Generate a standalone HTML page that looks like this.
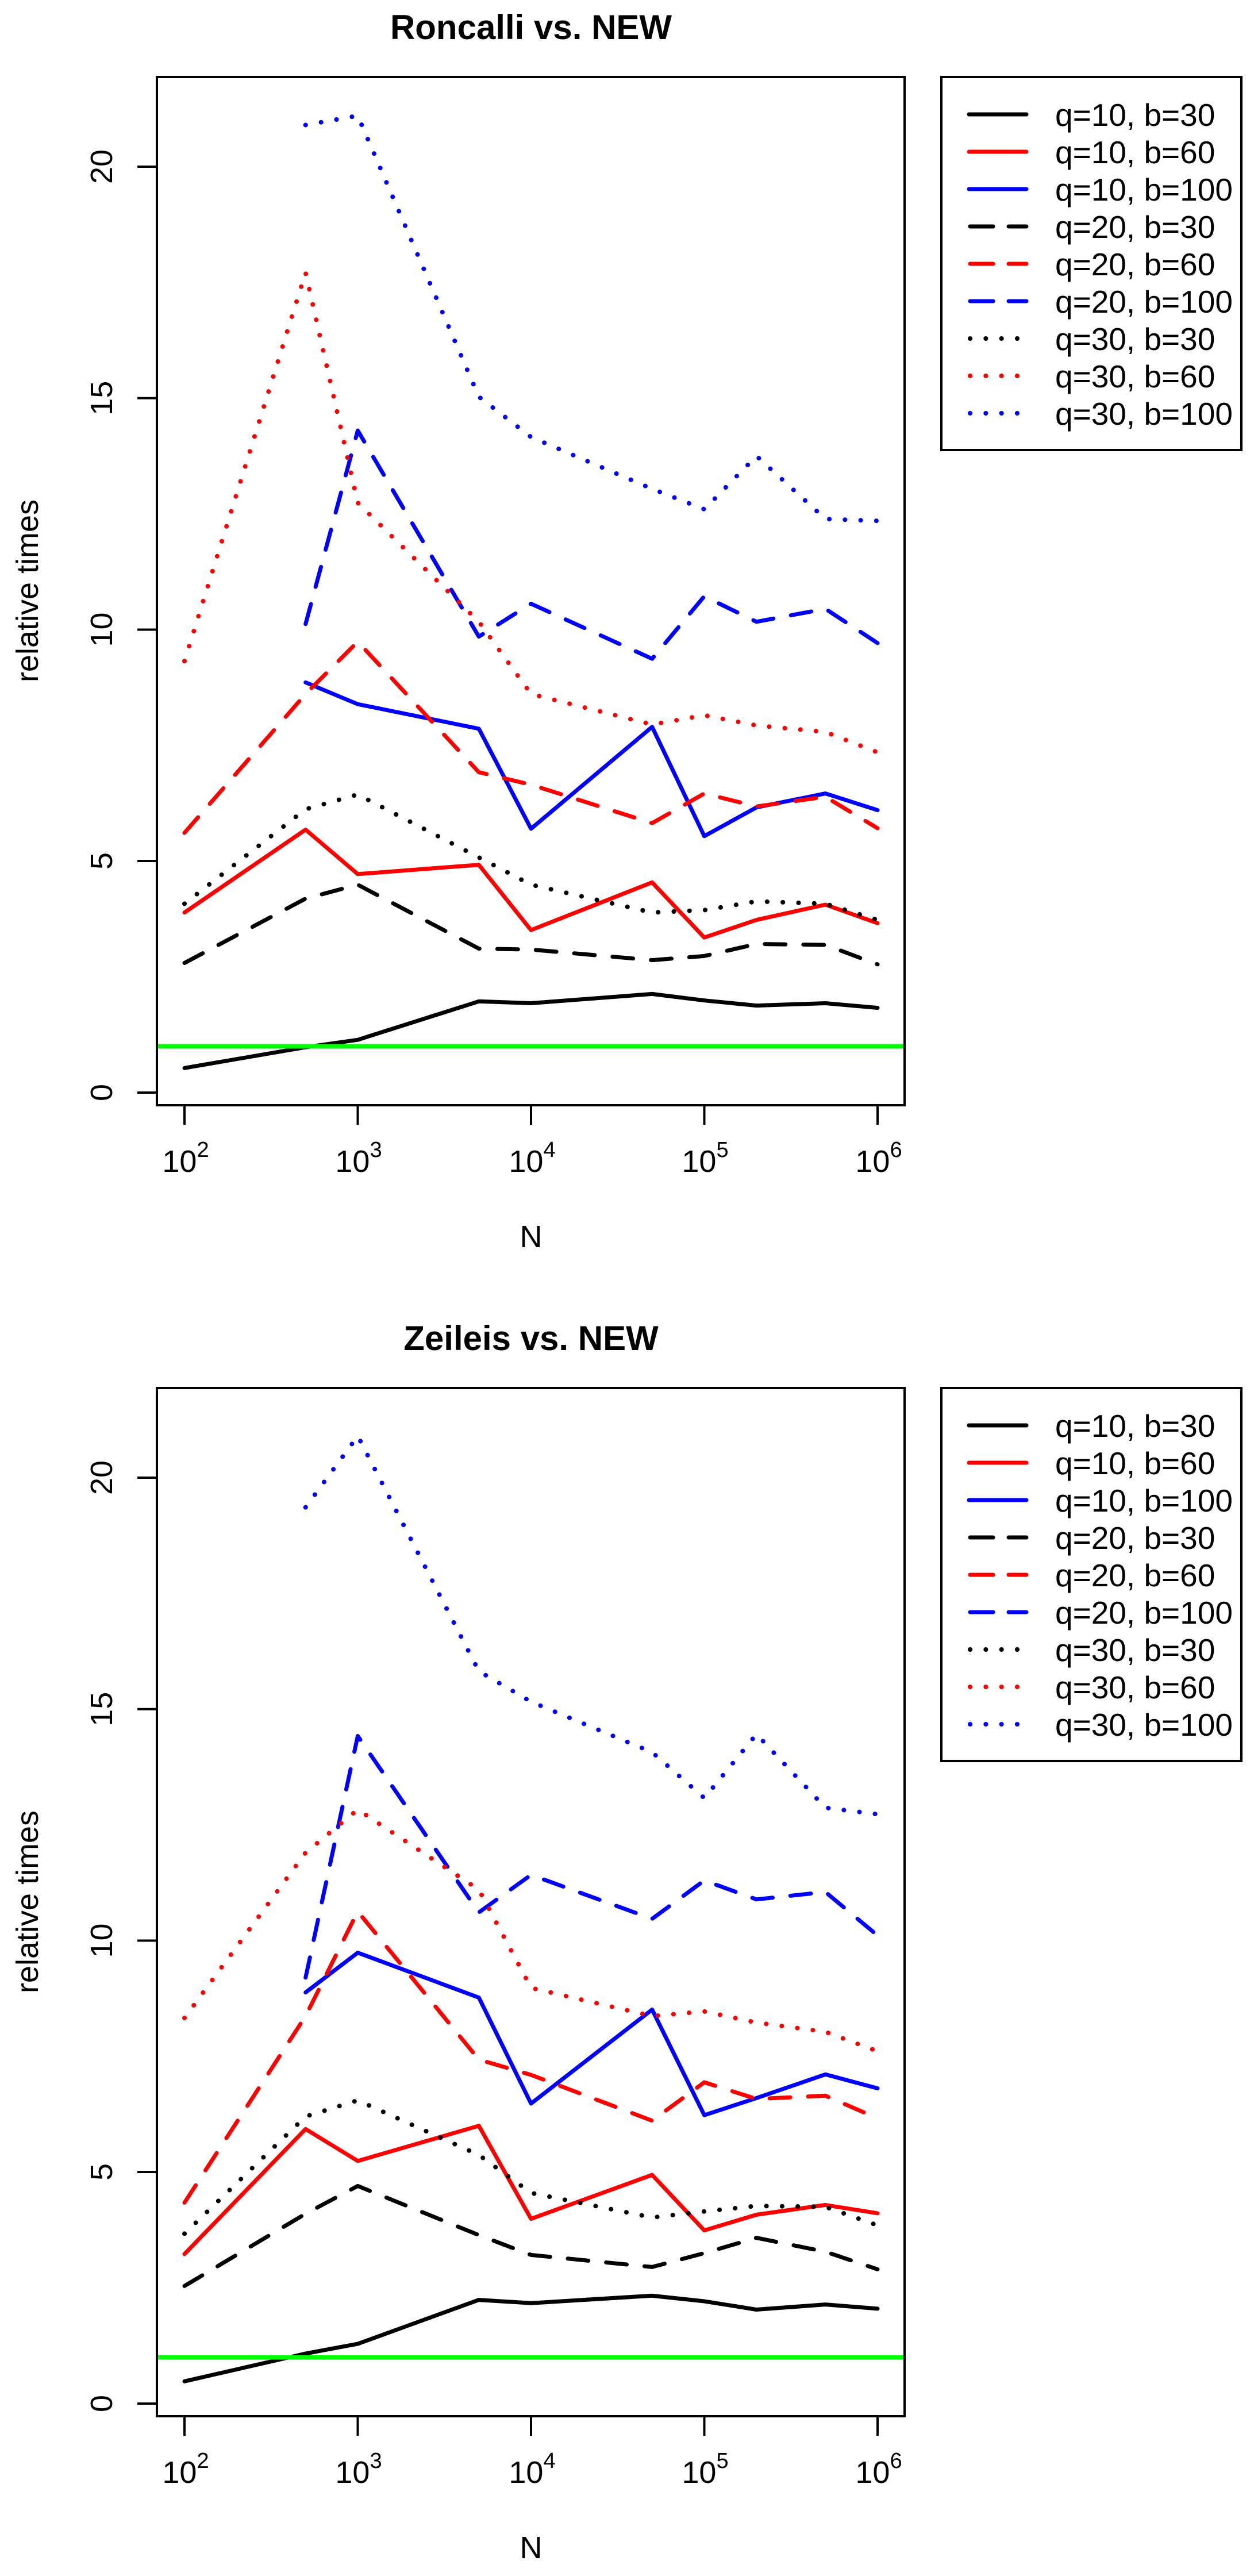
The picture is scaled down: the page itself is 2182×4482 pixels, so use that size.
<!DOCTYPE html>
<html><head><meta charset="utf-8"><style>html,body{margin:0;padding:0;background:#fff}svg{display:block}</style></head>
<body>
<svg width="2182" height="4482" viewBox="0 0 2182 4482" xmlns="http://www.w3.org/2000/svg" font-family="Liberation Sans, Arial, sans-serif">
<defs>
<g id="frame">
  <rect x="273" y="134" width="1301" height="1789" fill="none" stroke="#000" stroke-width="4"/>
  <g stroke="#000" stroke-width="4" fill="none">
    <line x1="273" y1="1901" x2="239" y2="1901"/>
    <line x1="273" y1="1498" x2="239" y2="1498"/>
    <line x1="273" y1="1095.5" x2="239" y2="1095.5"/>
    <line x1="273" y1="692.8" x2="239" y2="692.8"/>
    <line x1="273" y1="290" x2="239" y2="290"/>
    <line x1="321" y1="1923" x2="321" y2="1957"/>
    <line x1="622.5" y1="1923" x2="622.5" y2="1957"/>
    <line x1="924" y1="1923" x2="924" y2="1957"/>
    <line x1="1225.5" y1="1923" x2="1225.5" y2="1957"/>
    <line x1="1527" y1="1923" x2="1527" y2="1957"/>
  </g>
  <g font-size="54" text-anchor="middle" fill="#000">
    <text transform="translate(195,1901) rotate(-90)">0</text>
    <text transform="translate(195,1498) rotate(-90)">5</text>
    <text transform="translate(195,1095.5) rotate(-90)">10</text>
    <text transform="translate(195,692.8) rotate(-90)">15</text>
    <text transform="translate(195,290) rotate(-90)">20</text>
    <text transform="translate(66,1028) rotate(-90)">relative times</text>
    <text x="323" y="2039">10<tspan font-size="38" dy="-26">2</tspan></text>
    <text x="624" y="2039">10<tspan font-size="38" dy="-26">3</tspan></text>
    <text x="926" y="2039">10<tspan font-size="38" dy="-26">4</tspan></text>
    <text x="1227" y="2039">10<tspan font-size="38" dy="-26">5</tspan></text>
    <text x="1529" y="2039">10<tspan font-size="38" dy="-26">6</tspan></text>
    <text x="924" y="2170">N</text>
  </g>
  <rect x="1638" y="134" width="522" height="649" fill="none" stroke="#000" stroke-width="4"/>
  <g stroke-width="7" stroke-linecap="round" fill="none">
    <line x1="1686" y1="199" x2="1786" y2="199" stroke="#000"/>
    <line x1="1686" y1="264" x2="1786" y2="264" stroke="#f00"/>
    <line x1="1686" y1="329" x2="1786" y2="329" stroke="#00f"/>
    <g stroke-dasharray="40 27">
      <line x1="1688" y1="394" x2="1786" y2="394" stroke="#000"/>
      <line x1="1688" y1="459" x2="1786" y2="459" stroke="#f00"/>
      <line x1="1688" y1="524" x2="1786" y2="524" stroke="#00f"/>
    </g>
    <g stroke-dasharray="0.1 27.2" stroke-width="8">
      <line x1="1688" y1="589" x2="1786" y2="589" stroke="#000"/>
      <line x1="1688" y1="654" x2="1786" y2="654" stroke="#f00"/>
      <line x1="1688" y1="719" x2="1786" y2="719" stroke="#00f"/>
    </g>
  </g>
  <g font-size="55" fill="#000">
    <text x="1836" y="219">q=10, b=30</text>
    <text x="1836" y="284">q=10, b=60</text>
    <text x="1836" y="349">q=10, b=100</text>
    <text x="1836" y="414">q=20, b=30</text>
    <text x="1836" y="479">q=20, b=60</text>
    <text x="1836" y="544">q=20, b=100</text>
    <text x="1836" y="609">q=30, b=30</text>
    <text x="1836" y="674">q=30, b=60</text>
    <text x="1836" y="739">q=30, b=100</text>
  </g>
</g>
</defs>

<use href="#frame"/>
<text x="924" y="68" font-size="60" font-weight="bold" text-anchor="middle">Roncalli vs. NEW</text>
<g fill="none" stroke-width="7" stroke-linejoin="round" stroke-linecap="round">
  <polyline stroke="#000" points="321,1858.3 531.7,1822.1 622.5,1809.2 833.2,1742.3 924,1745.5 1134.7,1729.4 1225.5,1740.7 1316.3,1749.6 1436.2,1745.5 1527,1753.6"/>
  <polyline stroke="#f00" points="321,1587.7 531.7,1443.5 622.5,1520.8 833.2,1504.7 924,1618.3 1134.7,1535.3 1225.5,1631.2 1316.3,1600.6 1436.2,1574 1527,1606.2"/>
  <polyline stroke="#00f" points="531.7,1187.3 622.5,1225.2 833.2,1267.9 924,1441.9 1134.7,1264.7 1225.5,1454.8 1316.3,1404.8 1436.2,1380.6 1527,1409.6"/>
  <g stroke-dasharray="36 31">
    <polyline stroke="#000" points="321,1675.5 531.7,1563.5 622.5,1539.3 833.2,1650.5 924,1652.1 1134.7,1670.6 1225.5,1663.4 1316.3,1642.4 1436.2,1644 1527,1677.9"/>
    <polyline stroke="#f00" points="321,1449.1 531.7,1207.5 622.5,1116.4 833.2,1343.6 924,1365.3 1134.7,1432.2 1225.5,1380.6 1316.3,1403.2 1436.2,1386.3 1527,1441.1"/>
    <polyline stroke="#00f" points="531.7,1085.8 622.5,749.1 833.2,1107.6 924,1050.4 1134.7,1146.2 1225.5,1037.5 1316.3,1081.8 1436.2,1059.3 1527,1118.9"/>
  </g>
  <g stroke-dasharray="0.1 27.2" stroke-width="8">
    <polyline stroke="#000" points="321,1572.4 531.7,1408 622.5,1382.3 833.2,1491.8 924,1539.3 1134.7,1587.7 1225.5,1583.6 1316.3,1568.3 1436.2,1572.4 1527,1600.5"/>
    <polyline stroke="#f00" points="321,1150.3 531.7,474.5 622.5,874.8 833.2,1081.8 924,1207.5 1134.7,1260.6 1225.5,1244.5 1316.3,1262.2 1436.2,1273.5 1527,1309"/>
    <polyline stroke="#00f" points="531.7,217.5 622.5,201.4 833.2,690.3 924,760.4 1134.7,850.6 1225.5,886.1 1316.3,793.4 1436.2,903 1527,906.2"/>
  </g>
</g>
<line x1="275" y1="1820.5" x2="1572" y2="1820.5" stroke="#0f0" stroke-width="8"/>

<use href="#frame" transform="translate(0,2281)"/>
<text x="924" y="2349" font-size="60" font-weight="bold" text-anchor="middle">Zeileis vs. NEW</text>
<g fill="none" stroke-width="7" stroke-linejoin="round" stroke-linecap="round">
  <polyline stroke="#000" points="321,4143.3 531.7,4095 622.5,4078.1 833.2,4001.6 924,4007.2 1134.7,3994.3 1225.5,4004 1316.3,4018.5 1436.2,4009.6 1527,4016.9"/>
  <polyline stroke="#f00" points="321,3921.8 531.7,3704.3 622.5,3759.9 833.2,3698.7 924,3860.6 1134.7,3784.1 1225.5,3880.7 1316.3,3853.4 1436.2,3836.4 1527,3850.9"/>
  <polyline stroke="#00f" points="531.7,3466.7 622.5,3397.5 833.2,3475.6 924,3660 1134.7,3496.5 1225.5,3680.2 1316.3,3650.4 1436.2,3609.3 1527,3633.5"/>
  <g stroke-dasharray="36 31">
    <polyline stroke="#000" points="321,3977.4 531.7,3851.7 622.5,3803.4 833.2,3888.8 924,3923.4 1134.7,3944.4 1225.5,3920.2 1316.3,3893.6 1436.2,3917.8 1527,3948.4"/>
    <polyline stroke="#f00" points="321,3832.4 531.7,3507.8 622.5,3325.8 833.2,3583.5 924,3610.1 1134.7,3689.8 1225.5,3623 1316.3,3652 1436.2,3646.3 1527,3685.8"/>
    <polyline stroke="#00f" points="531.7,3440.9 622.5,3020.5 833.2,3327.4 924,3262.1 1134.7,3338.6 1225.5,3271.8 1316.3,3304.8 1436.2,3291.9 1527,3367.6"/>
  </g>
  <g stroke-dasharray="0.1 27.2" stroke-width="8">
    <polyline stroke="#000" points="321,3886.4 531.7,3682.6 622.5,3654.4 833.2,3749.4 924,3815.5 1134.7,3858.2 1225.5,3847.7 1316.3,3838.1 1436.2,3839.7 1527,3871.9"/>
    <polyline stroke="#f00" points="321,3511 531.7,3223.5 622.5,3148.5 833.2,3287.9 924,3458.7 1134.7,3507.8 1225.5,3499.7 1316.3,3519.1 1436.2,3535.2 1527,3569"/>
    <polyline stroke="#00f" points="531.7,2622.6 622.5,2498.5 833.2,2907.7 924,2960.9 1134.7,3048.7 1225.5,3128.4 1316.3,3017.3 1436.2,3145.3 1527,3156.6"/>
  </g>
</g>
<line x1="275" y1="4101.5" x2="1572" y2="4101.5" stroke="#0f0" stroke-width="8"/>
</svg>
</body></html>
